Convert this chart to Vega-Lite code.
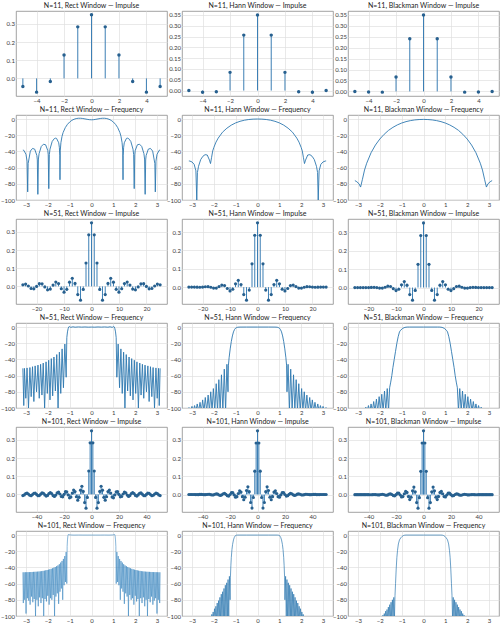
{
"$schema": "https://vega.github.io/schema/vega-lite/v6.json",
"background": "white",
"padding": {"left": 0, "top": 1, "right": 2, "bottom": 0},
"bounds": "flush",
"columns": 3,
"spacing": {"row": 19, "column": 15},
"config": {
 "view": {"stroke": "#8a8a8a", "strokeWidth": 0.8},
 "axis": {"grid": true, "gridColor": "#e0e0e0", "gridWidth": 0.7, "domain": false, "ticks": false, "labelFont": "Lato", "labelFontSize": 6, "labelColor": "#3a3a3a", "labelPadding": 1.5},
 "title": {"font": "Lato", "fontSize": 7, "fontWeight": "normal", "color": "#222222", "offset": 2}
},
"datasets": {
"i11r": [{"n":-5,"h":-0.045},{"n":-4,"h":-0.0757},{"n":-3,"h":-0.0166},{"n":-2,"h":0.1288},{"n":-1,"h":0.2836},{"n":0,"h":0.35},{"n":1,"h":0.2836},{"n":2,"h":0.1288},{"n":3,"h":-0.0166},{"n":4,"h":-0.0757},{"n":5,"h":-0.045}],
"i11h": [{"n":-5,"h":0},{"n":-4,"h":-0.0072},{"n":-3,"h":-0.0057},{"n":-2,"h":0.0843},{"n":-1,"h":0.2565},{"n":0,"h":0.35},{"n":1,"h":0.2565},{"n":2,"h":0.0843},{"n":3,"h":-0.0057},{"n":4,"h":-0.0072},{"n":5,"h":0}],
"i11b": [{"n":-5,"h":0},{"n":-4,"h":-0.003},{"n":-3,"h":-0.0033},{"n":-2,"h":0.0657},{"n":-1,"h":0.2408},{"n":0,"h":0.35},{"n":1,"h":0.2408},{"n":2,"h":0.0657},{"n":3,"h":-0.0033},{"n":4,"h":-0.003},{"n":5,"h":0}],
"i51r": [{"n":-25,"h":0.009},{"n":-24,"h":0.0126},{"n":-23,"h":0.0022},{"n":-22,"h":-0.0117},{"n":-21,"h":-0.0135},{"n":-20,"h":0},{"n":-19,"h":0.0149},{"n":-18,"h":0.0143},{"n":-17,"h":-0.0029},{"n":-16,"h":-0.0189},{"n":-15,"h":-0.015},{"n":-14,"h":0.007},{"n":-13,"h":0.0242},{"n":-12,"h":0.0156},{"n":-11,"h":-0.0131},{"n":-10,"h":-0.0318},{"n":-9,"h":-0.0161},{"n":-8,"h":0.0234},{"n":-7,"h":0.0449},{"n":-6,"h":0.0164},{"n":-5,"h":-0.045},{"n":-4,"h":-0.0757},{"n":-3,"h":-0.0166},{"n":-2,"h":0.1288},{"n":-1,"h":0.2836},{"n":0,"h":0.35},{"n":1,"h":0.2836},{"n":2,"h":0.1288},{"n":3,"h":-0.0166},{"n":4,"h":-0.0757},{"n":5,"h":-0.045},{"n":6,"h":0.0164},{"n":7,"h":0.0449},{"n":8,"h":0.0234},{"n":9,"h":-0.0161},{"n":10,"h":-0.0318},{"n":11,"h":-0.0131},{"n":12,"h":0.0156},{"n":13,"h":0.0242},{"n":14,"h":0.007},{"n":15,"h":-0.015},{"n":16,"h":-0.0189},{"n":17,"h":-0.0029},{"n":18,"h":0.0143},{"n":19,"h":0.0149},{"n":20,"h":0},{"n":21,"h":-0.0135},{"n":22,"h":-0.0117},{"n":23,"h":0.0022},{"n":24,"h":0.0126},{"n":25,"h":0.009}],
"i51h": [{"n":-25,"h":0},{"n":-24,"h":0},{"n":-23,"h":0},{"n":-22,"h":-0.0004},{"n":-21,"h":-0.0008},{"n":-20,"h":0},{"n":-19,"h":0.002},{"n":-18,"h":0.0026},{"n":-17,"h":-0.0007},{"n":-16,"h":-0.0054},{"n":-15,"h":-0.0052},{"n":-14,"h":0.0028},{"n":-13,"h":0.0113},{"n":-12,"h":0.0083},{"n":-11,"h":-0.0078},{"n":-10,"h":-0.0208},{"n":-9,"h":-0.0115},{"n":-8,"h":0.018},{"n":-7,"h":0.0368},{"n":-6,"h":0.0142},{"n":-5,"h":-0.0407},{"n":-4,"h":-0.071},{"n":-3,"h":-0.016},{"n":-2,"h":0.1268},{"n":-1,"h":0.2825},{"n":0,"h":0.35},{"n":1,"h":0.2825},{"n":2,"h":0.1268},{"n":3,"h":-0.016},{"n":4,"h":-0.071},{"n":5,"h":-0.0407},{"n":6,"h":0.0142},{"n":7,"h":0.0368},{"n":8,"h":0.018},{"n":9,"h":-0.0115},{"n":10,"h":-0.0208},{"n":11,"h":-0.0078},{"n":12,"h":0.0083},{"n":13,"h":0.0113},{"n":14,"h":0.0028},{"n":15,"h":-0.0052},{"n":16,"h":-0.0054},{"n":17,"h":-0.0007},{"n":18,"h":0.0026},{"n":19,"h":0.002},{"n":20,"h":0},{"n":21,"h":-0.0008},{"n":22,"h":-0.0004},{"n":23,"h":0},{"n":24,"h":0},{"n":25,"h":0}],
"i51b": [{"n":-25,"h":0},{"n":-24,"h":0},{"n":-23,"h":0},{"n":-22,"h":-0.0002},{"n":-21,"h":-0.0003},{"n":-20,"h":0},{"n":-19,"h":0.0009},{"n":-18,"h":0.0012},{"n":-17,"h":-0.0003},{"n":-16,"h":-0.003},{"n":-15,"h":-0.003},{"n":-14,"h":0.0018},{"n":-13,"h":0.0075},{"n":-12,"h":0.0058},{"n":-11,"h":-0.0058},{"n":-10,"h":-0.0162},{"n":-9,"h":-0.0094},{"n":-8,"h":0.0153},{"n":-7,"h":0.0325},{"n":-6,"h":0.0129},{"n":-5,"h":-0.0382},{"n":-4,"h":-0.0682},{"n":-3,"h":-0.0157},{"n":-2,"h":0.1255},{"n":-1,"h":0.2818},{"n":0,"h":0.35},{"n":1,"h":0.2818},{"n":2,"h":0.1255},{"n":3,"h":-0.0157},{"n":4,"h":-0.0682},{"n":5,"h":-0.0382},{"n":6,"h":0.0129},{"n":7,"h":0.0325},{"n":8,"h":0.0153},{"n":9,"h":-0.0094},{"n":10,"h":-0.0162},{"n":11,"h":-0.0058},{"n":12,"h":0.0058},{"n":13,"h":0.0075},{"n":14,"h":0.0018},{"n":15,"h":-0.003},{"n":16,"h":-0.003},{"n":17,"h":-0.0003},{"n":18,"h":0.0012},{"n":19,"h":0.0009},{"n":20,"h":0},{"n":21,"h":-0.0003},{"n":22,"h":-0.0002},{"n":23,"h":0},{"n":24,"h":0},{"n":25,"h":0}],
"i101r": [{"n":-50,"h":-0.0064},{"n":-49,"h":-0.0029},{"n":-48,"h":0.0039},{"n":-47,"h":0.0067},{"n":-46,"h":0.0021},{"n":-45,"h":-0.005},{"n":-44,"h":-0.0069},{"n":-43,"h":-0.0012},{"n":-42,"h":0.0061},{"n":-41,"h":0.0069},{"n":-40,"h":0},{"n":-39,"h":-0.0073},{"n":-38,"h":-0.0068},{"n":-37,"h":0.0013},{"n":-36,"h":0.0084},{"n":-35,"h":0.0064},{"n":-34,"h":-0.0029},{"n":-33,"h":-0.0095},{"n":-32,"h":-0.0058},{"n":-31,"h":0.0047},{"n":-30,"h":0.0106},{"n":-29,"h":0.005},{"n":-28,"h":-0.0067},{"n":-27,"h":-0.0116},{"n":-26,"h":-0.0038},{"n":-25,"h":0.009},{"n":-24,"h":0.0126},{"n":-23,"h":0.0022},{"n":-22,"h":-0.0117},{"n":-21,"h":-0.0135},{"n":-20,"h":0},{"n":-19,"h":0.0149},{"n":-18,"h":0.0143},{"n":-17,"h":-0.0029},{"n":-16,"h":-0.0189},{"n":-15,"h":-0.015},{"n":-14,"h":0.007},{"n":-13,"h":0.0242},{"n":-12,"h":0.0156},{"n":-11,"h":-0.0131},{"n":-10,"h":-0.0318},{"n":-9,"h":-0.0161},{"n":-8,"h":0.0234},{"n":-7,"h":0.0449},{"n":-6,"h":0.0164},{"n":-5,"h":-0.045},{"n":-4,"h":-0.0757},{"n":-3,"h":-0.0166},{"n":-2,"h":0.1288},{"n":-1,"h":0.2836},{"n":0,"h":0.35},{"n":1,"h":0.2836},{"n":2,"h":0.1288},{"n":3,"h":-0.0166},{"n":4,"h":-0.0757},{"n":5,"h":-0.045},{"n":6,"h":0.0164},{"n":7,"h":0.0449},{"n":8,"h":0.0234},{"n":9,"h":-0.0161},{"n":10,"h":-0.0318},{"n":11,"h":-0.0131},{"n":12,"h":0.0156},{"n":13,"h":0.0242},{"n":14,"h":0.007},{"n":15,"h":-0.015},{"n":16,"h":-0.0189},{"n":17,"h":-0.0029},{"n":18,"h":0.0143},{"n":19,"h":0.0149},{"n":20,"h":0},{"n":21,"h":-0.0135},{"n":22,"h":-0.0117},{"n":23,"h":0.0022},{"n":24,"h":0.0126},{"n":25,"h":0.009},{"n":26,"h":-0.0038},{"n":27,"h":-0.0116},{"n":28,"h":-0.0067},{"n":29,"h":0.005},{"n":30,"h":0.0106},{"n":31,"h":0.0047},{"n":32,"h":-0.0058},{"n":33,"h":-0.0095},{"n":34,"h":-0.0029},{"n":35,"h":0.0064},{"n":36,"h":0.0084},{"n":37,"h":0.0013},{"n":38,"h":-0.0068},{"n":39,"h":-0.0073},{"n":40,"h":0},{"n":41,"h":0.0069},{"n":42,"h":0.0061},{"n":43,"h":-0.0012},{"n":44,"h":-0.0069},{"n":45,"h":-0.005},{"n":46,"h":0.0021},{"n":47,"h":0.0067},{"n":48,"h":0.0039},{"n":49,"h":-0.0029},{"n":50,"h":-0.0064}],
"i101h": [{"n":-50,"h":0},{"n":-49,"h":0},{"n":-48,"h":0},{"n":-47,"h":0.0001},{"n":-46,"h":0},{"n":-45,"h":-0.0001},{"n":-44,"h":-0.0002},{"n":-43,"h":-0.0001},{"n":-42,"h":0.0004},{"n":-41,"h":0.0005},{"n":-40,"h":0},{"n":-39,"h":-0.0008},{"n":-38,"h":-0.0009},{"n":-37,"h":0.0002},{"n":-36,"h":0.0015},{"n":-35,"h":0.0013},{"n":-34,"h":-0.0007},{"n":-33,"h":-0.0025},{"n":-32,"h":-0.0017},{"n":-31,"h":0.0015},{"n":-30,"h":0.0037},{"n":-29,"h":0.0019},{"n":-28,"h":-0.0027},{"n":-27,"h":-0.0051},{"n":-26,"h":-0.0018},{"n":-25,"h":0.0045},{"n":-24,"h":0.0067},{"n":-23,"h":0.0012},{"n":-22,"h":-0.0069},{"n":-21,"h":-0.0084},{"n":-20,"h":0},{"n":-19,"h":0.0102},{"n":-18,"h":0.0102},{"n":-17,"h":-0.0021},{"n":-16,"h":-0.0145},{"n":-15,"h":-0.0119},{"n":-14,"h":0.0057},{"n":-13,"h":0.0204},{"n":-12,"h":0.0135},{"n":-11,"h":-0.0116},{"n":-10,"h":-0.0288},{"n":-9,"h":-0.0148},{"n":-8,"h":0.022},{"n":-7,"h":0.0428},{"n":-6,"h":0.0158},{"n":-5,"h":-0.0439},{"n":-4,"h":-0.0745},{"n":-3,"h":-0.0165},{"n":-2,"h":0.1283},{"n":-1,"h":0.2833},{"n":0,"h":0.35},{"n":1,"h":0.2833},{"n":2,"h":0.1283},{"n":3,"h":-0.0165},{"n":4,"h":-0.0745},{"n":5,"h":-0.0439},{"n":6,"h":0.0158},{"n":7,"h":0.0428},{"n":8,"h":0.022},{"n":9,"h":-0.0148},{"n":10,"h":-0.0288},{"n":11,"h":-0.0116},{"n":12,"h":0.0135},{"n":13,"h":0.0204},{"n":14,"h":0.0057},{"n":15,"h":-0.0119},{"n":16,"h":-0.0145},{"n":17,"h":-0.0021},{"n":18,"h":0.0102},{"n":19,"h":0.0102},{"n":20,"h":0},{"n":21,"h":-0.0084},{"n":22,"h":-0.0069},{"n":23,"h":0.0012},{"n":24,"h":0.0067},{"n":25,"h":0.0045},{"n":26,"h":-0.0018},{"n":27,"h":-0.0051},{"n":28,"h":-0.0027},{"n":29,"h":0.0019},{"n":30,"h":0.0037},{"n":31,"h":0.0015},{"n":32,"h":-0.0017},{"n":33,"h":-0.0025},{"n":34,"h":-0.0007},{"n":35,"h":0.0013},{"n":36,"h":0.0015},{"n":37,"h":0.0002},{"n":38,"h":-0.0009},{"n":39,"h":-0.0008},{"n":40,"h":0},{"n":41,"h":0.0005},{"n":42,"h":0.0004},{"n":43,"h":-0.0001},{"n":44,"h":-0.0002},{"n":45,"h":-0.0001},{"n":46,"h":0},{"n":47,"h":0.0001},{"n":48,"h":0},{"n":49,"h":0},{"n":50,"h":0}],
"i101b": [{"n":-50,"h":0},{"n":-49,"h":0},{"n":-48,"h":0},{"n":-47,"h":0},{"n":-46,"h":0},{"n":-45,"h":0},{"n":-44,"h":-0.0001},{"n":-43,"h":0},{"n":-42,"h":0.0002},{"n":-41,"h":0.0002},{"n":-40,"h":0},{"n":-39,"h":-0.0004},{"n":-38,"h":-0.0004},{"n":-37,"h":0.0001},{"n":-36,"h":0.0007},{"n":-35,"h":0.0006},{"n":-34,"h":-0.0003},{"n":-33,"h":-0.0013},{"n":-32,"h":-0.0009},{"n":-31,"h":0.0008},{"n":-30,"h":0.0021},{"n":-29,"h":0.0011},{"n":-28,"h":-0.0017},{"n":-27,"h":-0.0032},{"n":-26,"h":-0.0012},{"n":-25,"h":0.0031},{"n":-24,"h":0.0047},{"n":-23,"h":0.0009},{"n":-22,"h":-0.0051},{"n":-21,"h":-0.0064},{"n":-20,"h":0},{"n":-19,"h":0.0081},{"n":-18,"h":0.0083},{"n":-17,"h":-0.0018},{"n":-16,"h":-0.0124},{"n":-15,"h":-0.0103},{"n":-14,"h":0.0051},{"n":-13,"h":0.0183},{"n":-12,"h":0.0123},{"n":-11,"h":-0.0107},{"n":-10,"h":-0.027},{"n":-9,"h":-0.0141},{"n":-8,"h":0.0211},{"n":-7,"h":0.0415},{"n":-6,"h":0.0155},{"n":-5,"h":-0.0432},{"n":-4,"h":-0.0738},{"n":-3,"h":-0.0164},{"n":-2,"h":0.128},{"n":-1,"h":0.2831},{"n":0,"h":0.35},{"n":1,"h":0.2831},{"n":2,"h":0.128},{"n":3,"h":-0.0164},{"n":4,"h":-0.0738},{"n":5,"h":-0.0432},{"n":6,"h":0.0155},{"n":7,"h":0.0415},{"n":8,"h":0.0211},{"n":9,"h":-0.0141},{"n":10,"h":-0.027},{"n":11,"h":-0.0107},{"n":12,"h":0.0123},{"n":13,"h":0.0183},{"n":14,"h":0.0051},{"n":15,"h":-0.0103},{"n":16,"h":-0.0124},{"n":17,"h":-0.0018},{"n":18,"h":0.0083},{"n":19,"h":0.0081},{"n":20,"h":0},{"n":21,"h":-0.0064},{"n":22,"h":-0.0051},{"n":23,"h":0.0009},{"n":24,"h":0.0047},{"n":25,"h":0.0031},{"n":26,"h":-0.0012},{"n":27,"h":-0.0032},{"n":28,"h":-0.0017},{"n":29,"h":0.0011},{"n":30,"h":0.0021},{"n":31,"h":0.0008},{"n":32,"h":-0.0009},{"n":33,"h":-0.0013},{"n":34,"h":-0.0003},{"n":35,"h":0.0006},{"n":36,"h":0.0007},{"n":37,"h":0.0001},{"n":38,"h":-0.0004},{"n":39,"h":-0.0004},{"n":40,"h":0},{"n":41,"h":0.0002},{"n":42,"h":0.0002},{"n":43,"h":0},{"n":44,"h":-0.0001},{"n":45,"h":0},{"n":46,"h":0},{"n":47,"h":0},{"n":48,"h":0},{"n":49,"h":0},{"n":50,"h":0}],
"f11r": [{"w":0,"d":-0.91},{"w":0.1,"d":-0.76},{"w":0.2,"d":-0.34},{"w":0.3,"d":0.19},{"w":0.4,"d":0.68},{"w":0.5,"d":0.98},{"w":0.6,"d":0.98},{"w":0.7,"d":0.6},{"w":0.8,"d":-0.25},{"w":0.9,"d":-1.63},{"w":1.0,"d":-3.67},{"w":1.1,"d":-6.54},{"w":1.2,"d":-10.58},{"w":1.3,"d":-16.7},{"w":1.35,"d":-21.4},{"w":1.4,"d":-29.2},{"w":1.43,"d":-39.4},{"w":1.443,"d":-75},{"w":1.45,"d":-45.4},{"w":1.47,"d":-35.4},{"w":1.5,"d":-29.3},{"w":1.6,"d":-23.9},{"w":1.65,"d":-23.6},{"w":1.7,"d":-24.1},{"w":1.8,"d":-27.7},{"w":1.9,"d":-37.2},{"w":1.93,"d":-44},{"w":1.955,"d":-86},{"w":1.98,"d":-44.2},{"w":2.0,"d":-39},{"w":2.1,"d":-31.8},{"w":2.2,"d":-31.1},{"w":2.3,"d":-33.9},{"w":2.4,"d":-42.8},{"w":2.43,"d":-49.4},{"w":2.456,"d":-93},{"w":2.48,"d":-50.5},{"w":2.5,"d":-45.1},{"w":2.6,"d":-37.2},{"w":2.7,"d":-36.3},{"w":2.8,"d":-39.6},{"w":2.9,"d":-55.1},{"w":2.921,"d":-90},{"w":2.95,"d":-52},{"w":3.0,"d":-43.5},{"w":3.1,"d":-38.6},{"w":3.1416,"d":-38.3},
 {"w":-0.1,"d":-0.76},{"w":-0.2,"d":-0.34},{"w":-0.3,"d":0.19},{"w":-0.4,"d":0.68},{"w":-0.5,"d":0.98},{"w":-0.6,"d":0.98},{"w":-0.7,"d":0.6},{"w":-0.8,"d":-0.25},{"w":-0.9,"d":-1.63},{"w":-1.0,"d":-3.67},{"w":-1.1,"d":-6.54},{"w":-1.2,"d":-10.58},{"w":-1.3,"d":-16.7},{"w":-1.35,"d":-21.4},{"w":-1.4,"d":-29.2},{"w":-1.43,"d":-39.4},{"w":-1.443,"d":-75},{"w":-1.45,"d":-45.4},{"w":-1.47,"d":-35.4},{"w":-1.5,"d":-29.3},{"w":-1.6,"d":-23.9},{"w":-1.65,"d":-23.6},{"w":-1.7,"d":-24.1},{"w":-1.8,"d":-27.7},{"w":-1.9,"d":-37.2},{"w":-1.93,"d":-44},{"w":-1.955,"d":-86},{"w":-1.98,"d":-44.2},{"w":-2.0,"d":-39},{"w":-2.1,"d":-31.8},{"w":-2.2,"d":-31.1},{"w":-2.3,"d":-33.9},{"w":-2.4,"d":-42.8},{"w":-2.43,"d":-49.4},{"w":-2.456,"d":-93},{"w":-2.48,"d":-50.5},{"w":-2.5,"d":-45.1},{"w":-2.6,"d":-37.2},{"w":-2.7,"d":-36.3},{"w":-2.8,"d":-39.6},{"w":-2.9,"d":-55.1},{"w":-2.921,"d":-90},{"w":-2.95,"d":-52},{"w":-3.0,"d":-43.5},{"w":-3.1,"d":-38.6},{"w":-3.1416,"d":-38.3}],
"f11h": [{"w":0,"d":0.05},{"w":0.2,"d":-0.1},{"w":0.4,"d":-0.57},{"w":0.6,"d":-1.43},{"w":0.8,"d":-2.79},{"w":1,"d":-4.76},{"w":1.2,"d":-7.52},{"w":1.4,"d":-11.28},{"w":1.6,"d":-16.2},{"w":1.8,"d":-23.59},{"w":1.9,"d":-28.5},{"w":2,"d":-35.2},{"w":2.05,"d":-39.4},{"w":2.1,"d":-47.2},{"w":2.15,"d":-55},{"w":2.2,"d":-50.7},{"w":2.3,"d":-44.4},{"w":2.4,"d":-44},{"w":2.5,"d":-46},{"w":2.6,"d":-50.1},{"w":2.7,"d":-58.4},{"w":2.75,"d":-66},{"w":2.78,"d":-100},{"w":2.82,"d":-64},{"w":2.9,"d":-55.9},{"w":3,"d":-53},{"w":3.1,"d":-51.9},{"w":3.1416,"d":-51.8},
 {"w":-0.2,"d":-0.1},{"w":-0.4,"d":-0.57},{"w":-0.6,"d":-1.43},{"w":-0.8,"d":-2.79},{"w":-1,"d":-4.76},{"w":-1.2,"d":-7.52},{"w":-1.4,"d":-11.28},{"w":-1.6,"d":-16.2},{"w":-1.8,"d":-23.59},{"w":-1.9,"d":-28.5},{"w":-2,"d":-35.2},{"w":-2.05,"d":-39.4},{"w":-2.1,"d":-47.2},{"w":-2.15,"d":-55},{"w":-2.2,"d":-50.7},{"w":-2.3,"d":-44.4},{"w":-2.4,"d":-44},{"w":-2.5,"d":-46},{"w":-2.6,"d":-50.1},{"w":-2.7,"d":-58.4},{"w":-2.75,"d":-66},{"w":-2.78,"d":-100},{"w":-2.82,"d":-64},{"w":-2.9,"d":-55.9},{"w":-3,"d":-53},{"w":-3.1,"d":-51.9},{"w":-3.1416,"d":-51.8}],
"f11b": [{"w":0,"d":-0.44},{"w":0.2,"d":-0.6},{"w":0.4,"d":-1.08},{"w":0.6,"d":-1.93},{"w":0.8,"d":-3.19},{"w":1,"d":-4.94},{"w":1.2,"d":-7.27},{"w":1.4,"d":-10.27},{"w":1.6,"d":-13.97},{"w":1.8,"d":-18.8},{"w":2,"d":-24.7},{"w":2.2,"d":-32.1},{"w":2.4,"d":-41.6},{"w":2.6,"d":-54.6},{"w":2.7,"d":-63},{"w":2.8,"d":-75},{"w":2.88,"d":-84},{"w":2.95,"d":-80},{"w":3.05,"d":-77.5},{"w":3.1416,"d":-76},
 {"w":-0.2,"d":-0.6},{"w":-0.4,"d":-1.08},{"w":-0.6,"d":-1.93},{"w":-0.8,"d":-3.19},{"w":-1,"d":-4.94},{"w":-1.2,"d":-7.27},{"w":-1.4,"d":-10.27},{"w":-1.6,"d":-13.97},{"w":-1.8,"d":-18.8},{"w":-2,"d":-24.7},{"w":-2.2,"d":-32.1},{"w":-2.4,"d":-41.6},{"w":-2.6,"d":-54.6},{"w":-2.7,"d":-63},{"w":-2.8,"d":-75},{"w":-2.88,"d":-84},{"w":-2.95,"d":-80},{"w":-3.05,"d":-77.5},{"w":-3.1416,"d":-76}],
"f51r": [{"w":0,"d":0},{"w":0.15,"d":-0.15},{"w":0.3,"d":0.1},{"w":0.45,"d":-0.1},{"w":0.6,"d":0.15},{"w":0.75,"d":-0.2},{"w":0.85,"d":0.3},{"w":0.95,"d":-0.4},{"w":1,"d":0.6},{"w":1.04,"d":0.2},{"w":1.07,"d":-2},{"w":1.1,"d":-6},{"w":1.13,"d":-13},{"w":1.16,"d":-62},{"w":1.22,"d":-21},{"w":1.284,"d":-75},{"w":1.346,"d":-27},{"w":1.407,"d":-82},{"w":1.47,"d":-31},{"w":1.53,"d":-100},{"w":1.59,"d":-34},{"w":1.654,"d":-79},{"w":1.72,"d":-37},{"w":1.777,"d":-85},{"w":1.84,"d":-39},{"w":1.9,"d":-90},{"w":1.96,"d":-41},{"w":2.023,"d":-82},{"w":2.08,"d":-43},{"w":2.146,"d":-100},{"w":2.21,"d":-44.5},{"w":2.269,"d":-84},{"w":2.33,"d":-46},{"w":2.392,"d":-88},{"w":2.45,"d":-47},{"w":2.515,"d":-80},{"w":2.58,"d":-48},{"w":2.638,"d":-92},{"w":2.7,"d":-49},{"w":2.761,"d":-86},{"w":2.82,"d":-50},{"w":2.884,"d":-100},{"w":2.95,"d":-50.5},{"w":3.007,"d":-88},{"w":3.07,"d":-51},{"w":3.1,"d":-97},{"w":3.1416,"d":-51},
 {"w":-0.15,"d":-0.15},{"w":-0.3,"d":0.1},{"w":-0.45,"d":-0.1},{"w":-0.6,"d":0.15},{"w":-0.75,"d":-0.2},{"w":-0.85,"d":0.3},{"w":-0.95,"d":-0.4},{"w":-1,"d":0.6},{"w":-1.04,"d":0.2},{"w":-1.07,"d":-2},{"w":-1.1,"d":-6},{"w":-1.13,"d":-13},{"w":-1.16,"d":-62},{"w":-1.22,"d":-21},{"w":-1.284,"d":-75},{"w":-1.346,"d":-27},{"w":-1.407,"d":-82},{"w":-1.47,"d":-31},{"w":-1.53,"d":-100},{"w":-1.59,"d":-34},{"w":-1.654,"d":-79},{"w":-1.72,"d":-37},{"w":-1.777,"d":-85},{"w":-1.84,"d":-39},{"w":-1.9,"d":-90},{"w":-1.96,"d":-41},{"w":-2.023,"d":-82},{"w":-2.08,"d":-43},{"w":-2.146,"d":-100},{"w":-2.21,"d":-44.5},{"w":-2.269,"d":-84},{"w":-2.33,"d":-46},{"w":-2.392,"d":-88},{"w":-2.45,"d":-47},{"w":-2.515,"d":-80},{"w":-2.58,"d":-48},{"w":-2.638,"d":-92},{"w":-2.7,"d":-49},{"w":-2.761,"d":-86},{"w":-2.82,"d":-50},{"w":-2.884,"d":-100},{"w":-2.95,"d":-50.5},{"w":-3.007,"d":-88},{"w":-3.07,"d":-51},{"w":-3.1,"d":-97},{"w":-3.1416,"d":-51}],
"f51h": [{"w":0,"d":0},{"w":0.5,"d":0},{"w":0.8,"d":-0.05},{"w":0.9,"d":-0.2},{"w":0.95,"d":-0.6},{"w":1,"d":-1.3},{"w":1.05,"d":-3},{"w":1.1,"d":-6},{"w":1.15,"d":-11},{"w":1.2,"d":-18},{"w":1.25,"d":-27},{"w":1.3,"d":-38},{"w":1.33,"d":-47},{"w":1.35,"d":-80},{"w":1.4,"d":-46},{"w":1.46,"d":-104},{"w":1.52,"d":-52},{"w":1.585,"d":-104},{"w":1.65,"d":-59},{"w":1.71,"d":-104},{"w":1.77,"d":-65},{"w":1.83,"d":-104},{"w":1.89,"d":-70},{"w":1.955,"d":-104},{"w":2.02,"d":-76},{"w":2.08,"d":-104},{"w":2.14,"d":-80},{"w":2.2,"d":-104},{"w":2.26,"d":-84},{"w":2.325,"d":-104},{"w":2.39,"d":-87},{"w":2.45,"d":-104},{"w":2.51,"d":-90},{"w":2.57,"d":-104},{"w":2.63,"d":-93},{"w":2.695,"d":-104},{"w":2.76,"d":-95},{"w":2.82,"d":-104},{"w":2.88,"d":-97},{"w":2.94,"d":-104},{"w":3,"d":-98},{"w":3.07,"d":-104},{"w":3.1416,"d":-99},
 {"w":-0.5,"d":0},{"w":-0.8,"d":-0.05},{"w":-0.9,"d":-0.2},{"w":-0.95,"d":-0.6},{"w":-1,"d":-1.3},{"w":-1.05,"d":-3},{"w":-1.1,"d":-6},{"w":-1.15,"d":-11},{"w":-1.2,"d":-18},{"w":-1.25,"d":-27},{"w":-1.3,"d":-38},{"w":-1.33,"d":-47},{"w":-1.35,"d":-80},{"w":-1.4,"d":-46},{"w":-1.46,"d":-104},{"w":-1.52,"d":-52},{"w":-1.585,"d":-104},{"w":-1.65,"d":-59},{"w":-1.71,"d":-104},{"w":-1.77,"d":-65},{"w":-1.83,"d":-104},{"w":-1.89,"d":-70},{"w":-1.955,"d":-104},{"w":-2.02,"d":-76},{"w":-2.08,"d":-104},{"w":-2.14,"d":-80},{"w":-2.2,"d":-104},{"w":-2.26,"d":-84},{"w":-2.325,"d":-104},{"w":-2.39,"d":-87},{"w":-2.45,"d":-104},{"w":-2.51,"d":-90},{"w":-2.57,"d":-104},{"w":-2.63,"d":-93},{"w":-2.695,"d":-104},{"w":-2.76,"d":-95},{"w":-2.82,"d":-104},{"w":-2.88,"d":-97},{"w":-2.94,"d":-104},{"w":-3,"d":-98},{"w":-3.07,"d":-104},{"w":-3.1416,"d":-99}],
"f51b": [{"w":0,"d":0},{"w":0.65,"d":0},{"w":0.75,"d":-0.05},{"w":0.85,"d":-0.4},{"w":0.95,"d":-1.6},{"w":1.05,"d":-4},{"w":1.1,"d":-6},{"w":1.16,"d":-12},{"w":1.22,"d":-20},{"w":1.28,"d":-30},{"w":1.34,"d":-40},{"w":1.4,"d":-50},{"w":1.45,"d":-60},{"w":1.5,"d":-68},{"w":1.55,"d":-75},{"w":1.6,"d":-104},{"w":1.66,"d":-76},{"w":1.725,"d":-104},{"w":1.785,"d":-79},{"w":1.85,"d":-104},{"w":1.91,"d":-83},{"w":1.97,"d":-104},{"w":2.03,"d":-86},{"w":2.095,"d":-104},{"w":2.155,"d":-89},{"w":2.22,"d":-104},{"w":2.28,"d":-92},{"w":2.34,"d":-104},{"w":2.4,"d":-95},{"w":2.46,"d":-104},{"w":2.52,"d":-97},{"w":2.58,"d":-104},{"w":2.64,"d":-99},{"w":2.7,"d":-104},{"w":2.9,"d":-108},{"w":3.1416,"d":-110},
 {"w":-0.65,"d":0},{"w":-0.75,"d":-0.05},{"w":-0.85,"d":-0.4},{"w":-0.95,"d":-1.6},{"w":-1.05,"d":-4},{"w":-1.1,"d":-6},{"w":-1.16,"d":-12},{"w":-1.22,"d":-20},{"w":-1.28,"d":-30},{"w":-1.34,"d":-40},{"w":-1.4,"d":-50},{"w":-1.45,"d":-60},{"w":-1.5,"d":-68},{"w":-1.55,"d":-75},{"w":-1.6,"d":-104},{"w":-1.66,"d":-76},{"w":-1.725,"d":-104},{"w":-1.785,"d":-79},{"w":-1.85,"d":-104},{"w":-1.91,"d":-83},{"w":-1.97,"d":-104},{"w":-2.03,"d":-86},{"w":-2.095,"d":-104},{"w":-2.155,"d":-89},{"w":-2.22,"d":-104},{"w":-2.28,"d":-92},{"w":-2.34,"d":-104},{"w":-2.4,"d":-95},{"w":-2.46,"d":-104},{"w":-2.52,"d":-97},{"w":-2.58,"d":-104},{"w":-2.64,"d":-99},{"w":-2.7,"d":-104},{"w":-2.9,"d":-108},{"w":-3.1416,"d":-110}],
"f101r": [{"w":0,"d":0},{"w":0.2,"d":0},{"w":0.4,"d":0},{"w":0.6,"d":0.05},{"w":0.8,"d":-0.05},{"w":0.95,"d":0.1},{"w":1.03,"d":0.4},{"w":1.06,"d":0.7},{"w":1.08,"d":-1},{"w":1.1,"d":-6},{"w":1.115,"d":-14},{"w":1.131,"d":-60},{"w":1.162,"d":-21},{"w":1.193,"d":-58},{"w":1.224,"d":-26},{"w":1.255,"d":-62},{"w":1.287,"d":-29.5},{"w":1.318,"d":-80},{"w":1.349,"d":-32},{"w":1.38,"d":-66},{"w":1.411,"d":-34},{"w":1.442,"d":-70},{"w":1.473,"d":-36},{"w":1.504,"d":-85},{"w":1.535,"d":-37.5},{"w":1.566,"d":-72},{"w":1.598,"d":-38.5},{"w":1.629,"d":-76},{"w":1.66,"d":-39.5},{"w":1.691,"d":-100},{"w":1.722,"d":-40.3},{"w":1.753,"d":-74},{"w":1.784,"d":-41},{"w":1.815,"d":-80},{"w":1.846,"d":-41.7},{"w":1.877,"d":-78},{"w":1.909,"d":-42.3},{"w":1.94,"d":-86},{"w":1.971,"d":-42.8},{"w":2.002,"d":-75},{"w":2.033,"d":-43.2},{"w":2.064,"d":-82},{"w":2.095,"d":-43.6},{"w":2.126,"d":-79},{"w":2.157,"d":-44},{"w":2.188,"d":-100},{"w":2.22,"d":-44.3},{"w":2.251,"d":-78},{"w":2.282,"d":-44.6},{"w":2.313,"d":-84},{"w":2.344,"d":-44.8},{"w":2.375,"d":-77},{"w":2.406,"d":-45},{"w":2.437,"d":-88},{"w":2.468,"d":-45.2},{"w":2.499,"d":-80},{"w":2.531,"d":-45.3},{"w":2.562,"d":-100},{"w":2.593,"d":-45.4},{"w":2.624,"d":-79},{"w":2.655,"d":-45.5},{"w":2.686,"d":-83},{"w":2.717,"d":-45.6},{"w":2.748,"d":-76},{"w":2.779,"d":-45.7},{"w":2.81,"d":-86},{"w":2.842,"d":-45.8},{"w":2.873,"d":-81},{"w":2.904,"d":-45.8},{"w":2.935,"d":-78},{"w":2.966,"d":-45.9},{"w":2.997,"d":-97},{"w":3.028,"d":-45.9},{"w":3.059,"d":-80},{"w":3.09,"d":-46},{"w":3.121,"d":-84},{"w":3.1416,"d":-46},
 {"w":-0.2,"d":0},{"w":-0.4,"d":0},{"w":-0.6,"d":0.05},{"w":-0.8,"d":-0.05},{"w":-0.95,"d":0.1},{"w":-1.03,"d":0.4},{"w":-1.06,"d":0.7},{"w":-1.08,"d":-1},{"w":-1.1,"d":-6},{"w":-1.115,"d":-14},{"w":-1.131,"d":-60},{"w":-1.162,"d":-21},{"w":-1.193,"d":-58},{"w":-1.224,"d":-26},{"w":-1.255,"d":-62},{"w":-1.287,"d":-29.5},{"w":-1.318,"d":-80},{"w":-1.349,"d":-32},{"w":-1.38,"d":-66},{"w":-1.411,"d":-34},{"w":-1.442,"d":-70},{"w":-1.473,"d":-36},{"w":-1.504,"d":-85},{"w":-1.535,"d":-37.5},{"w":-1.566,"d":-72},{"w":-1.598,"d":-38.5},{"w":-1.629,"d":-76},{"w":-1.66,"d":-39.5},{"w":-1.691,"d":-100},{"w":-1.722,"d":-40.3},{"w":-1.753,"d":-74},{"w":-1.784,"d":-41},{"w":-1.815,"d":-80},{"w":-1.846,"d":-41.7},{"w":-1.877,"d":-78},{"w":-1.909,"d":-42.3},{"w":-1.94,"d":-86},{"w":-1.971,"d":-42.8},{"w":-2.002,"d":-75},{"w":-2.033,"d":-43.2},{"w":-2.064,"d":-82},{"w":-2.095,"d":-43.6},{"w":-2.126,"d":-79},{"w":-2.157,"d":-44},{"w":-2.188,"d":-100},{"w":-2.22,"d":-44.3},{"w":-2.251,"d":-78},{"w":-2.282,"d":-44.6},{"w":-2.313,"d":-84},{"w":-2.344,"d":-44.8},{"w":-2.375,"d":-77},{"w":-2.406,"d":-45},{"w":-2.437,"d":-88},{"w":-2.468,"d":-45.2},{"w":-2.499,"d":-80},{"w":-2.531,"d":-45.3},{"w":-2.562,"d":-100},{"w":-2.593,"d":-45.4},{"w":-2.624,"d":-79},{"w":-2.655,"d":-45.5},{"w":-2.686,"d":-83},{"w":-2.717,"d":-45.6},{"w":-2.748,"d":-76},{"w":-2.779,"d":-45.7},{"w":-2.81,"d":-86},{"w":-2.842,"d":-45.8},{"w":-2.873,"d":-81},{"w":-2.904,"d":-45.8},{"w":-2.935,"d":-78},{"w":-2.966,"d":-45.9},{"w":-2.997,"d":-97},{"w":-3.028,"d":-45.9},{"w":-3.059,"d":-80},{"w":-3.09,"d":-46},{"w":-3.121,"d":-84},{"w":-3.1416,"d":-46}],
"f101h": [{"w":0,"d":0},{"w":0.5,"d":0},{"w":0.9,"d":0},{"w":0.95,"d":-0.1},{"w":0.99,"d":-0.4},{"w":1.03,"d":-1.3},{"w":1.06,"d":-2.8},{"w":1.1,"d":-6},{"w":1.14,"d":-11.5},{"w":1.17,"d":-18},{"w":1.2,"d":-28},{"w":1.22,"d":-38},{"w":1.24,"d":-52},{"w":1.255,"d":-80},{"w":1.286,"d":-51},{"w":1.317,"d":-104},{"w":1.348,"d":-55},{"w":1.379,"d":-104},{"w":1.41,"d":-59},{"w":1.441,"d":-104},{"w":1.472,"d":-62},{"w":1.503,"d":-104},{"w":1.534,"d":-66},{"w":1.565,"d":-104},{"w":1.596,"d":-70},{"w":1.627,"d":-104},{"w":1.658,"d":-73},{"w":1.689,"d":-104},{"w":1.72,"d":-77},{"w":1.751,"d":-104},{"w":1.782,"d":-81},{"w":1.813,"d":-104},{"w":1.844,"d":-84},{"w":1.875,"d":-104},{"w":1.906,"d":-88},{"w":1.937,"d":-104},{"w":1.968,"d":-91},{"w":1.999,"d":-104},{"w":2.03,"d":-95},{"w":2.061,"d":-104},{"w":2.092,"d":-98},{"w":2.123,"d":-104},{"w":2.154,"d":-101},{"w":2.3,"d":-108},{"w":3.1416,"d":-120},
 {"w":-0.5,"d":0},{"w":-0.9,"d":0},{"w":-0.95,"d":-0.1},{"w":-0.99,"d":-0.4},{"w":-1.03,"d":-1.3},{"w":-1.06,"d":-2.8},{"w":-1.1,"d":-6},{"w":-1.14,"d":-11.5},{"w":-1.17,"d":-18},{"w":-1.2,"d":-28},{"w":-1.22,"d":-38},{"w":-1.24,"d":-52},{"w":-1.255,"d":-80},{"w":-1.286,"d":-51},{"w":-1.317,"d":-104},{"w":-1.348,"d":-55},{"w":-1.379,"d":-104},{"w":-1.41,"d":-59},{"w":-1.441,"d":-104},{"w":-1.472,"d":-62},{"w":-1.503,"d":-104},{"w":-1.534,"d":-66},{"w":-1.565,"d":-104},{"w":-1.596,"d":-70},{"w":-1.627,"d":-104},{"w":-1.658,"d":-73},{"w":-1.689,"d":-104},{"w":-1.72,"d":-77},{"w":-1.751,"d":-104},{"w":-1.782,"d":-81},{"w":-1.813,"d":-104},{"w":-1.844,"d":-84},{"w":-1.875,"d":-104},{"w":-1.906,"d":-88},{"w":-1.937,"d":-104},{"w":-1.968,"d":-91},{"w":-1.999,"d":-104},{"w":-2.03,"d":-95},{"w":-2.061,"d":-104},{"w":-2.092,"d":-98},{"w":-2.123,"d":-104},{"w":-2.154,"d":-101},{"w":-2.3,"d":-108},{"w":-3.1416,"d":-120}],
"f101b": [{"w":0,"d":0},{"w":0.8,"d":0},{"w":0.86,"d":-0.15},{"w":0.92,"d":-0.6},{"w":0.98,"d":-1.7},{"w":1.04,"d":-3.5},{"w":1.1,"d":-6},{"w":1.15,"d":-11},{"w":1.19,"d":-19},{"w":1.22,"d":-28},{"w":1.25,"d":-42},{"w":1.28,"d":-60},{"w":1.305,"d":-75},{"w":1.33,"d":-104},{"w":1.36,"d":-77},{"w":1.392,"d":-104},{"w":1.423,"d":-80},{"w":1.454,"d":-104},{"w":1.485,"d":-83},{"w":1.516,"d":-104},{"w":1.547,"d":-86},{"w":1.578,"d":-104},{"w":1.609,"d":-89},{"w":1.64,"d":-104},{"w":1.671,"d":-92},{"w":1.702,"d":-104},{"w":1.733,"d":-94},{"w":1.764,"d":-104},{"w":1.795,"d":-97},{"w":1.826,"d":-104},{"w":1.857,"d":-99},{"w":1.888,"d":-104},{"w":1.95,"d":-102},{"w":2.2,"d":-108},{"w":3.1416,"d":-120},
 {"w":-0.8,"d":0},{"w":-0.86,"d":-0.15},{"w":-0.92,"d":-0.6},{"w":-0.98,"d":-1.7},{"w":-1.04,"d":-3.5},{"w":-1.1,"d":-6},{"w":-1.15,"d":-11},{"w":-1.19,"d":-19},{"w":-1.22,"d":-28},{"w":-1.25,"d":-42},{"w":-1.28,"d":-60},{"w":-1.305,"d":-75},{"w":-1.33,"d":-104},{"w":-1.36,"d":-77},{"w":-1.392,"d":-104},{"w":-1.423,"d":-80},{"w":-1.454,"d":-104},{"w":-1.485,"d":-83},{"w":-1.516,"d":-104},{"w":-1.547,"d":-86},{"w":-1.578,"d":-104},{"w":-1.609,"d":-89},{"w":-1.64,"d":-104},{"w":-1.671,"d":-92},{"w":-1.702,"d":-104},{"w":-1.733,"d":-94},{"w":-1.764,"d":-104},{"w":-1.795,"d":-97},{"w":-1.826,"d":-104},{"w":-1.857,"d":-99},{"w":-1.888,"d":-104},{"w":-1.95,"d":-102},{"w":-2.2,"d":-108},{"w":-3.1416,"d":-120}]
},
"concat": [
{"title":"N=11, Rect Window — Impulse","width":151,"height":85,"data":{"name":"i11r"},
 "encoding":{"x":{"field":"n","type":"quantitative","title":null,"scale":{"domain":[-5.5,5.5],"nice":false,"zero":false},"axis":{"values":[-4,-2,0,2,4]}},
  "y":{"field":"h","type":"quantitative","title":null,"scale":{"domain":[-0.097,0.371],"nice":false,"zero":false},"axis":{"values":[0,0.1,0.2,0.3],"format":".1f"}}},
 "layer":[{"mark":{"type":"rule","color":"#3c7fb5","strokeWidth":1},"encoding":{"y2":{"datum":0}}},{"mark":{"type":"point","filled":true,"size":12,"color":"#27608f","opacity":1}}]},
{"title":"N=11, Hann Window — Impulse","width":151,"height":85,"data":{"name":"i11h"},
 "encoding":{"x":{"field":"n","type":"quantitative","title":null,"scale":{"domain":[-5.5,5.5],"nice":false,"zero":false},"axis":{"values":[-4,-2,0,2,4]}},
  "y":{"field":"h","type":"quantitative","title":null,"scale":{"domain":[-0.025,0.368],"nice":false,"zero":false},"axis":{"values":[0,0.05,0.1,0.15,0.2,0.25,0.3,0.35],"format":".2f"}}},
 "layer":[{"mark":{"type":"rule","color":"#3c7fb5","strokeWidth":1},"encoding":{"y2":{"datum":0}}},{"mark":{"type":"point","filled":true,"size":12,"color":"#27608f","opacity":1}}]},
{"title":"N=11, Blackman Window — Impulse","width":151,"height":85,"data":{"name":"i11b"},
 "encoding":{"x":{"field":"n","type":"quantitative","title":null,"scale":{"domain":[-5.5,5.5],"nice":false,"zero":false},"axis":{"values":[-4,-2,0,2,4]}},
  "y":{"field":"h","type":"quantitative","title":null,"scale":{"domain":[-0.021,0.368],"nice":false,"zero":false},"axis":{"values":[0,0.05,0.1,0.15,0.2,0.25,0.3,0.35],"format":".2f"}}},
 "layer":[{"mark":{"type":"rule","color":"#3c7fb5","strokeWidth":1},"encoding":{"y2":{"datum":0}}},{"mark":{"type":"point","filled":true,"size":12,"color":"#27608f","opacity":1}}]},
{"title":"N=11, Rect Window — Frequency","width":151,"height":85,"data":{"name":"f11r"},"mark":{"type":"line","clip":true,"color":"#2e78b0","strokeWidth":0.9},
 "encoding":{"x":{"field":"w","type":"quantitative","title":null,"scale":{"domain":[-3.456,3.456],"nice":false,"zero":false},"axis":{"values":[-3,-2,-1,0,1,2,3]}},"y":{"field":"d","type":"quantitative","title":null,"scale":{"domain":[-100,5],"nice":false,"zero":false},"axis":{"values":[-100,-80,-60,-40,-20,0],"format":"d"}}}},
{"title":"N=11, Hann Window — Frequency","width":151,"height":85,"data":{"name":"f11h"},"mark":{"type":"line","clip":true,"color":"#2e78b0","strokeWidth":0.9},
 "encoding":{"x":{"field":"w","type":"quantitative","title":null,"scale":{"domain":[-3.456,3.456],"nice":false,"zero":false},"axis":{"values":[-3,-2,-1,0,1,2,3]}},"y":{"field":"d","type":"quantitative","title":null,"scale":{"domain":[-100,5],"nice":false,"zero":false},"axis":{"values":[-100,-80,-60,-40,-20,0],"format":"d"}}}},
{"title":"N=11, Blackman Window — Frequency","width":151,"height":85,"data":{"name":"f11b"},"mark":{"type":"line","clip":true,"color":"#2e78b0","strokeWidth":0.9},
 "encoding":{"x":{"field":"w","type":"quantitative","title":null,"scale":{"domain":[-3.456,3.456],"nice":false,"zero":false},"axis":{"values":[-3,-2,-1,0,1,2,3]}},"y":{"field":"d","type":"quantitative","title":null,"scale":{"domain":[-100,5],"nice":false,"zero":false},"axis":{"values":[-100,-80,-60,-40,-20,0],"format":"d"}}}},
{"title":"N=51, Rect Window — Impulse","width":151,"height":85,"data":{"name":"i51r"},
 "encoding":{"x":{"field":"n","type":"quantitative","title":null,"scale":{"domain":[-27.5,27.5],"nice":false,"zero":false},"axis":{"values":[-20,-10,0,10,20]}},
  "y":{"field":"h","type":"quantitative","title":null,"scale":{"domain":[-0.097,0.371],"nice":false,"zero":false},"axis":{"values":[0,0.1,0.2,0.3],"format":".1f"}}},
 "layer":[{"mark":{"type":"rule","color":"#3c7fb5","strokeWidth":1},"encoding":{"y2":{"datum":0}}},{"mark":{"type":"point","filled":true,"size":10,"color":"#27608f","opacity":1}}]},
{"title":"N=51, Hann Window — Impulse","width":151,"height":85,"data":{"name":"i51h"},
 "encoding":{"x":{"field":"n","type":"quantitative","title":null,"scale":{"domain":[-27.5,27.5],"nice":false,"zero":false},"axis":{"values":[-20,-10,0,10,20]}},
  "y":{"field":"h","type":"quantitative","title":null,"scale":{"domain":[-0.092,0.371],"nice":false,"zero":false},"axis":{"values":[0,0.1,0.2,0.3],"format":".1f"}}},
 "layer":[{"mark":{"type":"rule","color":"#3c7fb5","strokeWidth":1},"encoding":{"y2":{"datum":0}}},{"mark":{"type":"point","filled":true,"size":10,"color":"#27608f","opacity":1}}]},
{"title":"N=51, Blackman Window — Impulse","width":151,"height":85,"data":{"name":"i51b"},
 "encoding":{"x":{"field":"n","type":"quantitative","title":null,"scale":{"domain":[-27.5,27.5],"nice":false,"zero":false},"axis":{"values":[-20,-10,0,10,20]}},
  "y":{"field":"h","type":"quantitative","title":null,"scale":{"domain":[-0.089,0.371],"nice":false,"zero":false},"axis":{"values":[0,0.1,0.2,0.3],"format":".1f"}}},
 "layer":[{"mark":{"type":"rule","color":"#3c7fb5","strokeWidth":1},"encoding":{"y2":{"datum":0}}},{"mark":{"type":"point","filled":true,"size":10,"color":"#27608f","opacity":1}}]},
{"title":"N=51, Rect Window — Frequency","width":151,"height":85,"data":{"name":"f51r"},"mark":{"type":"line","clip":true,"color":"#2e78b0","strokeWidth":0.9},
 "encoding":{"x":{"field":"w","type":"quantitative","title":null,"scale":{"domain":[-3.456,3.456],"nice":false,"zero":false},"axis":{"values":[-3,-2,-1,0,1,2,3]}},"y":{"field":"d","type":"quantitative","title":null,"scale":{"domain":[-100,5],"nice":false,"zero":false},"axis":{"values":[-100,-80,-60,-40,-20,0],"format":"d"}}}},
{"title":"N=51, Hann Window — Frequency","width":151,"height":85,"data":{"name":"f51h"},"mark":{"type":"line","clip":true,"color":"#2e78b0","strokeWidth":0.9},
 "encoding":{"x":{"field":"w","type":"quantitative","title":null,"scale":{"domain":[-3.456,3.456],"nice":false,"zero":false},"axis":{"values":[-3,-2,-1,0,1,2,3]}},"y":{"field":"d","type":"quantitative","title":null,"scale":{"domain":[-100,5],"nice":false,"zero":false},"axis":{"values":[-100,-80,-60,-40,-20,0],"format":"d"}}}},
{"title":"N=51, Blackman Window — Frequency","width":151,"height":85,"data":{"name":"f51b"},"mark":{"type":"line","clip":true,"color":"#2e78b0","strokeWidth":0.9},
 "encoding":{"x":{"field":"w","type":"quantitative","title":null,"scale":{"domain":[-3.456,3.456],"nice":false,"zero":false},"axis":{"values":[-3,-2,-1,0,1,2,3]}},"y":{"field":"d","type":"quantitative","title":null,"scale":{"domain":[-100,5],"nice":false,"zero":false},"axis":{"values":[-100,-80,-60,-40,-20,0],"format":"d"}}}},
{"title":"N=101, Rect Window — Impulse","width":151,"height":85,"data":{"name":"i101r"},
 "encoding":{"x":{"field":"n","type":"quantitative","title":null,"scale":{"domain":[-55,55],"nice":false,"zero":false},"axis":{"values":[-40,-20,0,20,40]}},
  "y":{"field":"h","type":"quantitative","title":null,"scale":{"domain":[-0.097,0.371],"nice":false,"zero":false},"axis":{"values":[0,0.1,0.2,0.3],"format":".1f"}}},
 "layer":[{"mark":{"type":"rule","color":"#3c7fb5","strokeWidth":1},"encoding":{"y2":{"datum":0}}},{"mark":{"type":"point","filled":true,"size":10,"color":"#27608f","opacity":1}}]},
{"title":"N=101, Hann Window — Impulse","width":151,"height":85,"data":{"name":"i101h"},
 "encoding":{"x":{"field":"n","type":"quantitative","title":null,"scale":{"domain":[-55,55],"nice":false,"zero":false},"axis":{"values":[-40,-20,0,20,40]}},
  "y":{"field":"h","type":"quantitative","title":null,"scale":{"domain":[-0.096,0.371],"nice":false,"zero":false},"axis":{"values":[0,0.1,0.2,0.3],"format":".1f"}}},
 "layer":[{"mark":{"type":"rule","color":"#3c7fb5","strokeWidth":1},"encoding":{"y2":{"datum":0}}},{"mark":{"type":"point","filled":true,"size":10,"color":"#27608f","opacity":1}}]},
{"title":"N=101, Blackman Window — Impulse","width":151,"height":85,"data":{"name":"i101b"},
 "encoding":{"x":{"field":"n","type":"quantitative","title":null,"scale":{"domain":[-55,55],"nice":false,"zero":false},"axis":{"values":[-40,-20,0,20,40]}},
  "y":{"field":"h","type":"quantitative","title":null,"scale":{"domain":[-0.095,0.371],"nice":false,"zero":false},"axis":{"values":[0,0.1,0.2,0.3],"format":".1f"}}},
 "layer":[{"mark":{"type":"rule","color":"#3c7fb5","strokeWidth":1},"encoding":{"y2":{"datum":0}}},{"mark":{"type":"point","filled":true,"size":10,"color":"#27608f","opacity":1}}]},
{"title":"N=101, Rect Window — Frequency","width":151,"height":85,"data":{"name":"f101r"},"mark":{"type":"line","clip":true,"color":"#3a86c0","strokeWidth":0.6},
 "encoding":{"x":{"field":"w","type":"quantitative","title":null,"scale":{"domain":[-3.456,3.456],"nice":false,"zero":false},"axis":{"values":[-3,-2,-1,0,1,2,3]}},"y":{"field":"d","type":"quantitative","title":null,"scale":{"domain":[-100,5],"nice":false,"zero":false},"axis":{"values":[-100,-80,-60,-40,-20,0],"format":"d"}}}},
{"title":"N=101, Hann Window — Frequency","width":151,"height":85,"data":{"name":"f101h"},"mark":{"type":"line","clip":true,"color":"#2e78b0","strokeWidth":0.7},
 "encoding":{"x":{"field":"w","type":"quantitative","title":null,"scale":{"domain":[-3.456,3.456],"nice":false,"zero":false},"axis":{"values":[-3,-2,-1,0,1,2,3]}},"y":{"field":"d","type":"quantitative","title":null,"scale":{"domain":[-100,5],"nice":false,"zero":false},"axis":{"values":[-100,-80,-60,-40,-20,0],"format":"d"}}}},
{"title":"N=101, Blackman Window — Frequency","width":151,"height":85,"data":{"name":"f101b"},"mark":{"type":"line","clip":true,"color":"#2e78b0","strokeWidth":0.7},
 "encoding":{"x":{"field":"w","type":"quantitative","title":null,"scale":{"domain":[-3.456,3.456],"nice":false,"zero":false},"axis":{"values":[-3,-2,-1,0,1,2,3]}},"y":{"field":"d","type":"quantitative","title":null,"scale":{"domain":[-100,5],"nice":false,"zero":false},"axis":{"values":[-100,-80,-60,-40,-20,0],"format":"d"}}}}
]
}
